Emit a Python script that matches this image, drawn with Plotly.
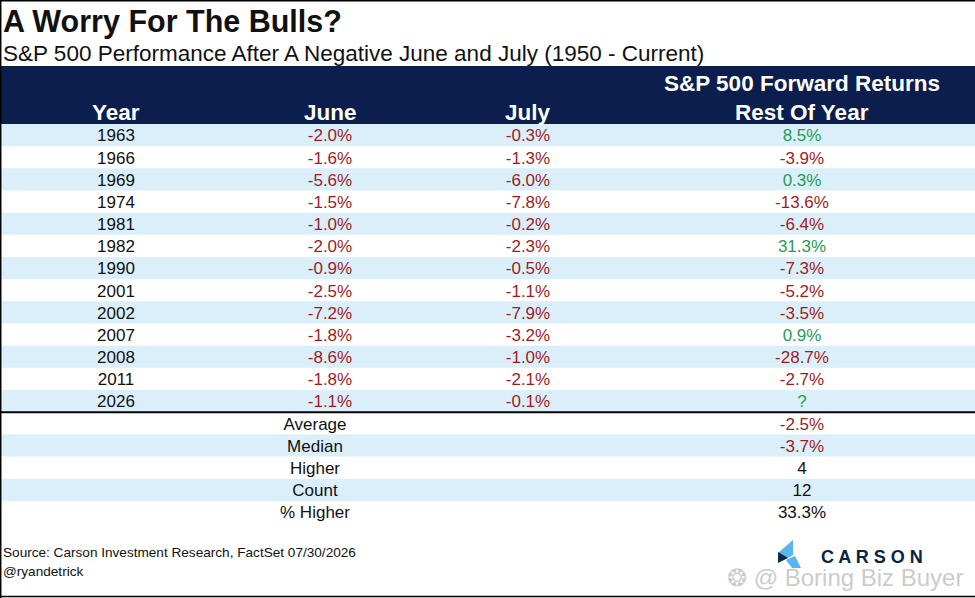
import plotly.graph_objects as go

# ---------------- data ----------------
years = ["1963", "1966", "1969", "1974", "1981", "1982", "1990", "2001",
         "2002", "2007", "2008", "2011", "2026"]
june = [-2.0, -1.6, -5.6, -1.5, -1.0, -2.0, -0.9, -2.5, -7.2, -1.8, -8.6, -1.8, -1.1]
july = [-0.3, -1.3, -6.0, -7.8, -0.2, -2.3, -0.5, -1.1, -7.9, -3.2, -1.0, -2.1, -0.1]
rest_of_year = [8.5, -3.9, 0.3, -13.6, -6.4, 31.3, -7.3, -5.2, -3.5, 0.9, -28.7, -2.7, None]

summary_labels = ["Average", "Median", "Higher", "Count", "% Higher"]
summary_values = ["-2.5%", "-3.7%", "4", "12", "33.3%"]
summary_signs = [-1, -1, 0, 0, 0]

col_headers = ["Year", "June", "July", "Rest Of Year"]
top_header = "S&P 500 Forward Returns"
title = "A Worry For The Bulls?"
subtitle = "S&P 500 Performance After A Negative June and July (1950 - Current)"
source = "Source: Carson Investment Research, FactSet 07/30/2026"
handle = "@ryandetrick"

# ---------------- style ----------------
W, H = 975, 598
NAVY = "#0b1e4e"
STRIPE = "#dbeffa"
RED = "#a01c22"
GREEN = "#1f9e50"
BLACK = "#111111"
FONT = "Liberation Sans, Arial, sans-serif"

col_x = [116, 330, 528, 802]
summary_label_x = 315
header_top, header_bot = 66, 124
row_h = 22.17
sum_top = header_bot + len(years) * row_h
text_dy = 2  # visual baseline nudge

def color_for(v):
    if v is None:
        return GREEN
    return GREEN if v > 0 else RED

def fmt(v):
    return "?" if v is None else f"{v:.1f}%"

shapes = []
shapes.append(dict(type="rect", xref="x", yref="y", x0=0, x1=W, y0=header_top, y1=header_bot,
                   fillcolor=NAVY, line_width=0, layer="below"))
for i in range(len(years)):
    if i % 2 == 0:
        shapes.append(dict(type="rect", xref="x", yref="y", x0=0, x1=W,
                           y0=header_bot + i * row_h, y1=header_bot + (i + 1) * row_h,
                           fillcolor=STRIPE, line_width=0, layer="below"))
for j in range(len(summary_labels)):
    if j % 2 == 1:
        shapes.append(dict(type="rect", xref="x", yref="y", x0=0, x1=W,
                           y0=sum_top + j * row_h, y1=sum_top + (j + 1) * row_h,
                           fillcolor=STRIPE, line_width=0, layer="below"))
shapes.append(dict(type="line", xref="x", yref="y", x0=0, x1=W, y0=sum_top, y1=sum_top,
                   line=dict(color="black", width=2)))
shapes.append(dict(type="line", xref="x", yref="y", x0=0, x1=W, y0=0.7, y1=0.7,
                   line=dict(color="black", width=1.5)))
shapes.append(dict(type="line", xref="x", yref="y", x0=0.7, x1=0.7, y0=0, y1=H,
                   line=dict(color="black", width=1.5)))
shapes.append(dict(type="line", xref="x", yref="y", x0=0, x1=W, y0=596.5, y1=596.5,
                   line=dict(color="black", width=1.5)))
# Carson logo mark
shapes.append(dict(type="path", xref="x", yref="y",
                   path="M 778,553 L 793,540 L 793,555 L 786,559 Z",
                   fillcolor="#5ab4ee", line_width=0))
shapes.append(dict(type="path", xref="x", yref="y",
                   path="M 778,552 L 788,558 L 778,563 Z",
                   fillcolor="#0b2a4a", line_width=0))
shapes.append(dict(type="path", xref="x", yref="y",
                   path="M 786,560 L 795,556 L 801,568 L 792,568 Z",
                   fillcolor="#5ab4ee", line_width=0))

fig = go.Figure()

row_y = [header_bot + (i + 0.5) * row_h + text_dy for i in range(len(years))]
sum_y = [sum_top + (j + 0.5) * row_h + text_dy for j in range(len(summary_labels))]

body_font = dict(family=FONT, size=17)

fig.add_trace(go.Scatter(x=[col_x[0]] * len(years), y=row_y, text=years, mode="text",
                         textfont=dict(**body_font, color=BLACK), hoverinfo="skip"))
fig.add_trace(go.Scatter(x=[col_x[1]] * len(years), y=row_y, text=[fmt(v) for v in june],
                         mode="text", textfont=dict(**body_font, color=[color_for(v) for v in june]),
                         hoverinfo="skip"))
fig.add_trace(go.Scatter(x=[col_x[2]] * len(years), y=row_y, text=[fmt(v) for v in july],
                         mode="text", textfont=dict(**body_font, color=[color_for(v) for v in july]),
                         hoverinfo="skip"))
fig.add_trace(go.Scatter(x=[col_x[3]] * len(years), y=row_y, text=[fmt(v) for v in rest_of_year],
                         mode="text",
                         textfont=dict(**body_font, color=[color_for(v) for v in rest_of_year]),
                         hoverinfo="skip"))
fig.add_trace(go.Scatter(x=[summary_label_x] * len(summary_labels), y=sum_y, text=summary_labels,
                         mode="text", textfont=dict(**body_font, color=BLACK), hoverinfo="skip"))
fig.add_trace(go.Scatter(x=[col_x[3]] * len(summary_values), y=sum_y, text=summary_values,
                         mode="text",
                         textfont=dict(**body_font, color=[RED if s < 0 else BLACK for s in summary_signs]),
                         hoverinfo="skip"))

annotations = []
def ann(x, y, text, size, color, bold=False, xanchor="center", opacity=1.0, family=FONT):
    annotations.append(dict(x=x, y=y, xref="x", yref="y", text=f"<b>{text}</b>" if bold else text,
                            showarrow=False, xanchor=xanchor, yanchor="middle", opacity=opacity,
                            font=dict(family=family, size=size, color=color)))

ann(1, 21, title, 30.5, BLACK, bold=True, xanchor="left")
ann(1, 53, subtitle, 22.5, BLACK, xanchor="left")
for x, t in zip(col_x, col_headers):
    ann(x, 112, t, 22.5, "white", bold=True)
ann(col_x[3], 83, top_header, 22.5, "white", bold=True)
ann(1, 552, source, 13.6, BLACK, xanchor="left")
ann(1, 571, handle, 13.6, BLACK, xanchor="left")
ann(872, 557, "<b>C A R S O N</b>", 18, "#0b2340")
ann(845, 577, "\u2742 @ Boring Biz Buyer", 24, "#9a9a9a", opacity=0.5)

fig.update_layout(
    width=W, height=H, margin=dict(l=0, r=0, t=0, b=0),
    paper_bgcolor="white", plot_bgcolor="white", showlegend=False,
    xaxis=dict(range=[0, W], visible=False, fixedrange=True),
    yaxis=dict(range=[H, 0], visible=False, fixedrange=True),
    shapes=shapes, annotations=annotations,
)

fig.write_html("out.html", config={"displayModeBar": False},
               post_script="document.body.style.margin='0';document.body.style.overflow='hidden';")
